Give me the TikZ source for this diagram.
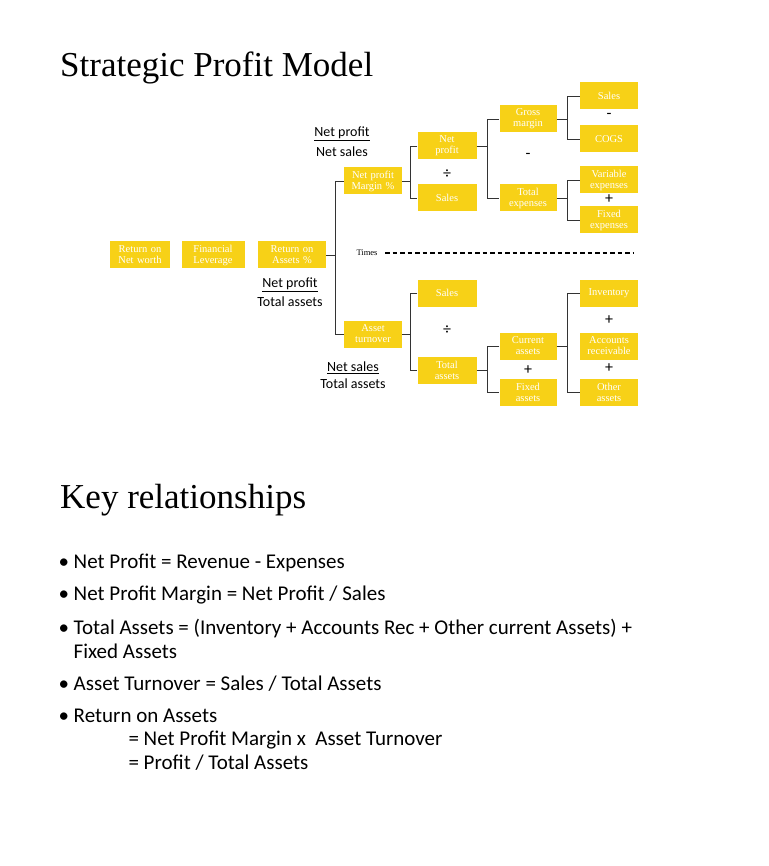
\documentclass[tikz,border=0pt]{standalone}
\usepackage{fontspec}
\setmainfont{Liberation Serif}
\newfontfamily\carl{Carlito}
\definecolor{boxy}{HTML}{F7D117}
\begin{document}
\begin{tikzpicture}[x=1pt,y=-1pt,
  bx/.style={fill=boxy,draw=none,inner sep=0pt,text=white,font=\fontsize{10.5}{11}\selectfont,align=center,text width=#1,minimum height=27},
  bx/.default=58,
  lbl/.style={font=\carl\fontsize{14}{15}\selectfont,inner sep=0pt},
  op/.style={font=\carl\fontsize{16}{16}\selectfont},
  ln/.style={draw=black!80,line width=0.8pt},
  bul/.style={font=\carl\fontsize{21}{23.5}\selectfont,anchor=west,align=left}]
\useasboundingbox (0,0) rectangle (768,866);
\node[anchor=base west,inner sep=0pt,font=\fontsize{35}{35}\selectfont] (t1) at (60,77) {Strategic Profit Model};
\node[bx=60] (rnw) at (140,255) {Return on\\Net worth};
\node[bx=63] (fl) at (213,255) {Financial\\Leverage};
\node[bx=68] (roa) at (292,255) {Return on\\Assets \%};
\node[bx] (npm) at (373,181) {Net profit\\Margin \%};
\node[bx] (at) at (373,334) {Asset\\turnover};
\node[bx=59] (np) at (447,146) {Net\\profit};
\node[bx=59] (s1) at (447,198) {Sales};
\node[bx=57] (gm) at (528,119) {Gross\\margin};
\node[bx=57] (te) at (528,198) {Total\\expenses};
\node[bx] (s2) at (609,96) {Sales};
\node[bx] (cogs) at (609,139) {COGS};
\node[bx] (ve) at (609,180) {Variable\\expenses};
\node[bx] (fe) at (609,220) {Fixed\\expenses};
\node[bx=59] (s3) at (447,293) {Sales};
\node[bx=59] (ta) at (447,370) {Total\\assets};
\node[bx=57] (ca) at (528,346) {Current\\assets};
\node[bx=57] (fa) at (528,392) {Fixed\\assets};
\node[bx] (inv) at (609,293) {Inventory};
\node[bx] (ar) at (609,346) {Accounts\\receivable};
\node[bx] (oa) at (609,392) {Other\\assets};
% connectors
\draw[ln] (roa.east) -- ++(9,0) coordinate (j1);
\draw[ln] (npm.west) -| (j1) |- (at.west);
\draw[ln] (npm.east) -- ++(8,0) coordinate (j2);
\draw[ln] (np.west) -| (j2) |- (s1.west);
\draw[ln] (np.east) -- ++(11,0) coordinate (j3);
\draw[ln] (gm.west) -| (j3) |- (te.west);
\draw[ln] (gm.east) -- ++(11,0) coordinate (j4);
\draw[ln] (s2.west) -| (j4) |- (cogs.west);
\draw[ln] (te.east) -- ++(11,0) coordinate (j5);
\draw[ln] (ve.west) -| (j5) |- (fe.west);
\draw[ln] (at.east) -- ++(8,0) coordinate (j6);
\draw[ln] (s3.west) -| (j6) |- (ta.west);
\draw[ln] (ta.east) -- ++(11,0) coordinate (j7);
\draw[ln] (ca.west) -| (j7) |- (fa.west);
\draw[ln] (ca.east) -- ++(11,0) coordinate (j8);
\draw[ln] (inv.west) -| (j8) |- (oa.west);
% times
\node[font=\fontsize{8.5}{8.5}\selectfont] (tm) at (367,253) {Times};
\coordinate (de) at (633,253);
\draw[line width=1.6pt,dash pattern=on 4.5pt off 3pt] (tm.east) ++(4,0) -- (de);
% labels
\node[lbl] (l1a) at (342,134) {\underline{Net profit}};
\node[lbl] (l1b) at (342,152) {Net sales};
\node[lbl] (l2a) at (290,285) {\underline{Net profit}};
\node[lbl] (l2b) at (290,302) {Total assets};
\node[lbl] (l3a) at (353,368) {\underline{Net sales}};
\node[lbl] (l3b) at (353,384) {Total assets};
% operators
\node[op] (o1) at (447,174) {÷};
\node[op] (o2) at (528,156) {-};
\node[op] (o3) at (609,116) {-};
\node[op] (o4) at (609,199) {+};
\node[op] (o5) at (447,330) {÷};
\node[op] (o6) at (528,370) {+};
\node[op] (o7) at (609,320) {+};
\node[op] (o8) at (609,368) {+};
% key relationships
\node[anchor=base west,inner sep=0pt,font=\fontsize{35}{35}\selectfont] (t2) at (60,508) {Key relationships};
\node[bul] (b1) at (55,563) {•\ Net Profit = Revenue - Expenses};
\node[bul] (b2) at (55,595) {•\ Net Profit Margin = Net Profit / Sales};
\node[bul,anchor=north west] (b3) at (55,616) {•\ Total Assets = (Inventory + Accounts Rec + Other current Assets) +\\\phantom{•\ }Fixed Assets};
\node[bul] (b4) at (55,684) {•\ Asset Turnover = Sales / Total Assets};
\node[bul,anchor=north west] (b5) at (55,705) {•\ Return on Assets\\\hspace*{70pt}= Net Profit Margin x\ \ Asset Turnover\\\hspace*{70pt}= Profit / Total Assets};
\end{tikzpicture}
\end{document}
